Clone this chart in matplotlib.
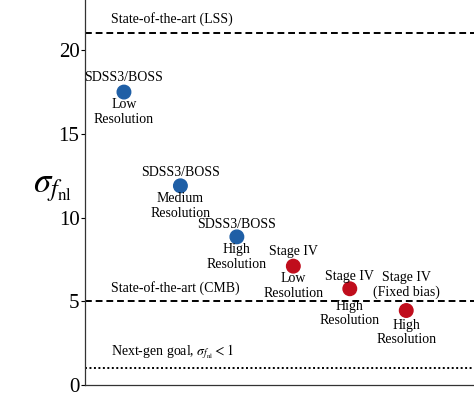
import matplotlib
matplotlib.use("Agg")
import matplotlib.pyplot as plt
import matplotlib.transforms as mtransforms

plt.rcParams['font.family'] = ['Liberation Serif', 'DejaVu Serif']
plt.rcParams['mathtext.fontset'] = 'stix'

# data
surveys = ['SDSS3/BOSS', 'SDSS3/BOSS', 'SDSS3/BOSS', 'Stage IV', 'Stage IV', 'Stage IV\n(Fixed bias)']
resolutions = ['Low\nResolution', 'Medium\nResolution', 'High\nResolution',
               'Low\nResolution', 'High\nResolution', 'High\nResolution']
sigma_fnl = [17.5, 11.9, 8.85, 7.1, 5.75, 4.45]
colors = ['#1f5fa6', '#1f5fa6', '#1f5fa6', '#c00d1c', '#c00d1c', '#c00d1c']
x_pos = [1, 2, 3, 4, 5, 6]

lss_level = 21
cmb_level = 5
goal_level = 1

# label offsets in points (layout only)
gap_above = [5.5, 5, 4.3, 5.8, 4.3, 8.6]
gap_below = [4.5, 4.5, 4.5, 4.5, 8, 6]

fig = plt.figure(figsize=(4.74, 3.97), dpi=100)
ax = fig.add_axes([85 / 474, 12 / 397, 389 / 474, 385 / 397])

ax.scatter(x_pos, sigma_fnl, s=95, c=colors, zorder=3)
for x, y, top, bottom, ga, gb in zip(x_pos, sigma_fnl, surveys, resolutions,
                                     gap_above, gap_below):
    ax.annotate(top, (x, y), xytext=(0, ga), textcoords='offset points',
                ha='center', va='bottom', fontsize=10, linespacing=1.15)
    ax.annotate(bottom, (x, y), xytext=(0, -gb), textcoords='offset points',
                ha='center', va='top', fontsize=10, linespacing=1.15)

ax.axhline(lss_level, color='black', ls=(0, (3.5, 2)), lw=1.4)
ax.axhline(cmb_level, color='black', ls=(0, (3.5, 2)), lw=1.4)
ax.axhline(goal_level, color='black', ls=(0, (1, 1.3)), lw=1.4)

trans = mtransforms.blended_transform_factory(ax.transAxes, ax.transData)
ax.text(0.067, lss_level + 0.45, 'State-of-the-art (LSS)', transform=trans,
        fontsize=10, va='bottom')
ax.text(0.067, cmb_level + 0.4, 'State-of-the-art (CMB)', transform=trans,
        fontsize=10, va='bottom')
ax.text(0.067, goal_level + 0.45, r'Next-gen goal, $\sigma_{f_{\rm nl}} < 1$',
        transform=trans, fontsize=10, va='bottom')

ax.set_xlim(0.31, 7.2)
ax.set_ylim(0, 23)
ax.set_yticks([0, 5, 10, 15, 20])
ax.set_xticks([])
ax.tick_params(axis='y', labelsize=15, length=3, width=0.8, pad=1)
ax.set_ylabel(r'$\sigma_{f_{\rm nl}}$', fontsize=25, rotation=0)
ax.yaxis.set_label_coords(-0.085, 0.47)
ax.spines['top'].set_visible(False)
ax.spines['right'].set_visible(False)
for s in ('left', 'bottom'):
    ax.spines[s].set_linewidth(0.9)
    ax.spines[s].set_color('#333333')

fig.savefig('out.png', dpi=100)
